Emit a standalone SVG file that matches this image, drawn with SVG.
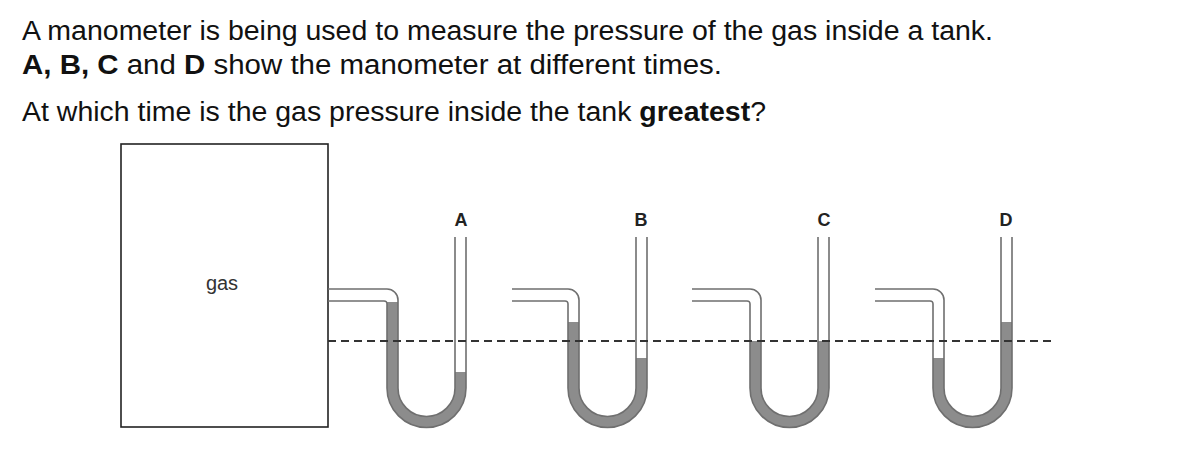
<svg xmlns="http://www.w3.org/2000/svg" width="1200" height="474" viewBox="0 0 1200 474">
<style>
.t{font-family:"Liberation Sans",Arial,sans-serif;font-size:27px;fill:#111}
.lbl{font-family:"Liberation Sans",Arial,sans-serif;font-size:18px;font-weight:bold;fill:#222;text-anchor:middle}
.wall{fill:none;stroke:#6f6f6f;stroke-width:1.6}
.liq{fill:none;stroke:#8c8c8c;stroke-width:11}
</style>
<rect width="1200" height="474" fill="#fff"/>
<text class="t" x="22" y="40" textLength="971" lengthAdjust="spacingAndGlyphs">A manometer is being used to measure the pressure of the gas inside a tank.</text>
<text class="t" x="22" y="74" textLength="700" lengthAdjust="spacingAndGlyphs"><tspan font-weight="bold">A, B, C</tspan> and <tspan font-weight="bold">D</tspan> show the manometer at different times.</text>
<text class="t" x="22" y="121" textLength="744" lengthAdjust="spacingAndGlyphs">At which time is the gas pressure inside the tank <tspan font-weight="bold">greatest</tspan>?</text>
<g id="tank">
<rect x="121" y="144" width="207" height="283" fill="none" stroke="#222" stroke-width="1.6"/>
<text x="222" y="290" font-family="Liberation Sans,Arial,sans-serif" font-size="20" fill="#333" text-anchor="middle">gas</text>
</g>
<g id="A" transform="translate(387,0)">
<path class="liq" d="M5.5 302 V388 A34 34 0 0 0 73.5 388 V372"/>
<path class="wall" d="M-59 289 H0 A11 11 0 0 1 11 300 V388 A28.5 28.5 0 0 0 68 388 V237"/>
<path class="wall" d="M-59 301 H-3 Q0 301 0 304 V388 A39.5 39.5 0 0 0 79 388 V237"/>
<text class="lbl" x="74" y="226">A</text>
</g>
<g id="B" transform="translate(568,0)">
<path class="liq" d="M5.5 322 V388 A34 34 0 0 0 73.5 388 V358"/>
<path class="wall" d="M-56 289 H0 A11 11 0 0 1 11 300 V388 A28.5 28.5 0 0 0 68 388 V237"/>
<path class="wall" d="M-56 301 H-3 Q0 301 0 304 V388 A39.5 39.5 0 0 0 79 388 V237"/>
<text class="lbl" x="73" y="226">B</text>
</g>
<g id="C" transform="translate(750,0)">
<path class="liq" d="M5.5 341 V388 A34 34 0 0 0 73.5 388 V341"/>
<path class="wall" d="M-58 289 H0 A11 11 0 0 1 11 300 V388 A28.5 28.5 0 0 0 68 388 V237"/>
<path class="wall" d="M-58 301 H-3 Q0 301 0 304 V388 A39.5 39.5 0 0 0 79 388 V237"/>
<text class="lbl" x="74" y="226">C</text>
</g>
<g id="D" transform="translate(933,0)">
<path class="liq" d="M5.5 358 V388 A34 34 0 0 0 73.5 388 V322"/>
<path class="wall" d="M-58 289 H0 A11 11 0 0 1 11 300 V388 A28.5 28.5 0 0 0 68 388 V237"/>
<path class="wall" d="M-58 301 H-3 Q0 301 0 304 V388 A39.5 39.5 0 0 0 79 388 V237"/>
<text class="lbl" x="73" y="226">D</text>
</g>
<g id="connectors">
<line x1="328" y1="341" x2="1052" y2="341" stroke="#333" stroke-width="2" stroke-dasharray="8 5"/>
</g>
</svg>
